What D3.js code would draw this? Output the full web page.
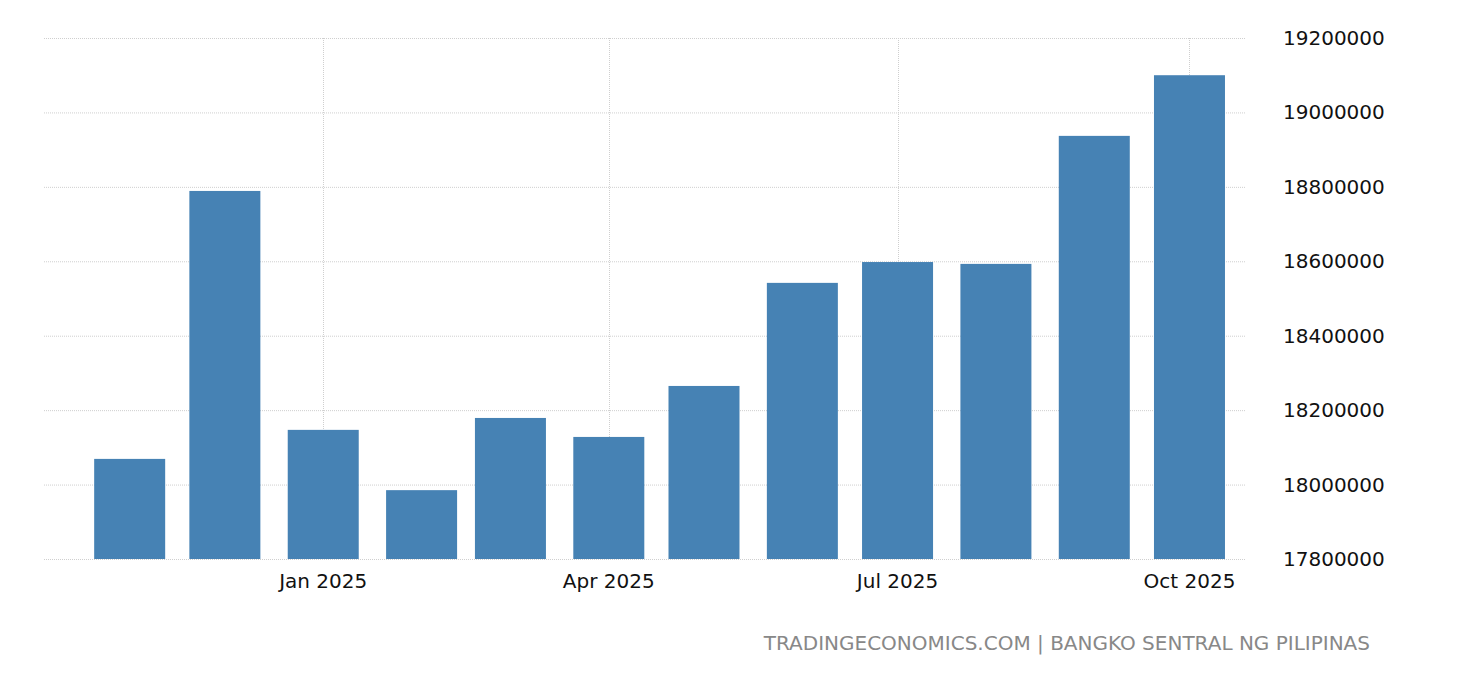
<!DOCTYPE html>
<html>
<head>
<meta charset="utf-8">
<script src="https://cdn.jsdelivr.net/npm/d3@7"></script>
<style>
body { margin: 0; background: #fff; }
text { font-family: "DejaVu Sans", sans-serif; }
</style>
</head>
<body>
<div class="chart"></div>
<script>
// monthly values, Nov 2024 .. Oct 2025
const months = ["2024-11", "2024-12", "2025-01", "2025-02", "2025-03", "2025-04",
    "2025-05", "2025-06", "2025-07", "2025-08", "2025-09", "2025-10"];
const values = [18069000, 18789000, 18147000, 17985000, 18179000, 18128000,
    18265000, 18542000, 18598000, 18593000, 18937000, 19100000];
const yTicks = [17800000, 18000000, 18200000, 18400000, 18600000, 18800000, 19000000, 19200000];
const xTicks = ["2025-01", "2025-04", "2025-07", "2025-10"];

const parse = d3.timeParse("%Y-%m");
const data = months.map((m, i) => ({date: parse(m), value: values[i]}));

const width = 1460, height = 680;
const plotLeft = 44, plotRight = 1245, plotTop = 38, plotBottom = 559;

const svg = d3.select(".chart").append("svg")
    .attr("width", width)
    .attr("height", height);

const xScale = d3.scaleTime()
    .domain([new Date(2024, 9, 5), new Date(2025, 9, 18, 12)])
    .range([plotLeft, plotRight]);

const yScale = d3.scaleLinear()
    .domain([17800000, 19200000])
    .range([plotBottom, plotTop]);

// grid
svg.append("g").selectAll("line")
    .data(yTicks)
    .enter()
    .append("line")
    .attr("x1", plotLeft)
    .attr("x2", plotRight)
    .attr("y1", d => yScale(d) + 0.5)
    .attr("y2", d => yScale(d) + 0.5)
    .attr("stroke", "#cfcfcf")
    .attr("stroke-dasharray", "1,1");

svg.append("g").selectAll("line")
    .data(xTicks)
    .enter()
    .append("line")
    .attr("x1", d => Math.round(xScale(parse(d))) + 0.5)
    .attr("x2", d => Math.round(xScale(parse(d))) + 0.5)
    .attr("y1", plotTop)
    .attr("y2", plotBottom)
    .attr("stroke", "#cfcfcf")
    .attr("stroke-dasharray", "1,1");

const barWidth = 71;
svg.append("g").selectAll("rect")
    .data(data)
    .enter()
    .append("rect")
    .attr("x", d => xScale(d.date) - barWidth / 2)
    .attr("y", d => yScale(d.value))
    .attr("width", barWidth)
    .attr("height", d => plotBottom - yScale(d.value))
    .attr("fill", "#4682b4");

// y labels
svg.append("g").selectAll("text")
    .data(yTicks)
    .enter()
    .append("text")
    .text(d => d)
    .attr("x", 1283)
    .attr("y", d => yScale(d))
    .attr("dy", "0.35em")
    .attr("font-size", 20)
    .attr("fill", "#111");

// x labels
const fmt = d3.timeFormat("%b %Y");
svg.append("g").selectAll("text")
    .data(xTicks)
    .enter()
    .append("text")
    .text(d => fmt(parse(d)))
    .attr("x", d => xScale(parse(d)))
    .attr("y", 588)
    .attr("text-anchor", "middle")
    .attr("font-size", 20)
    .attr("fill", "#111");

svg.append("text")
    .text("TRADINGECONOMICS.COM | BANGKO SENTRAL NG PILIPINAS")
    .attr("x", 1370)
    .attr("y", 650)
    .attr("text-anchor", "end")
    .attr("font-size", 20)
    .attr("fill", "#888");
</script>
</body>
</html>
